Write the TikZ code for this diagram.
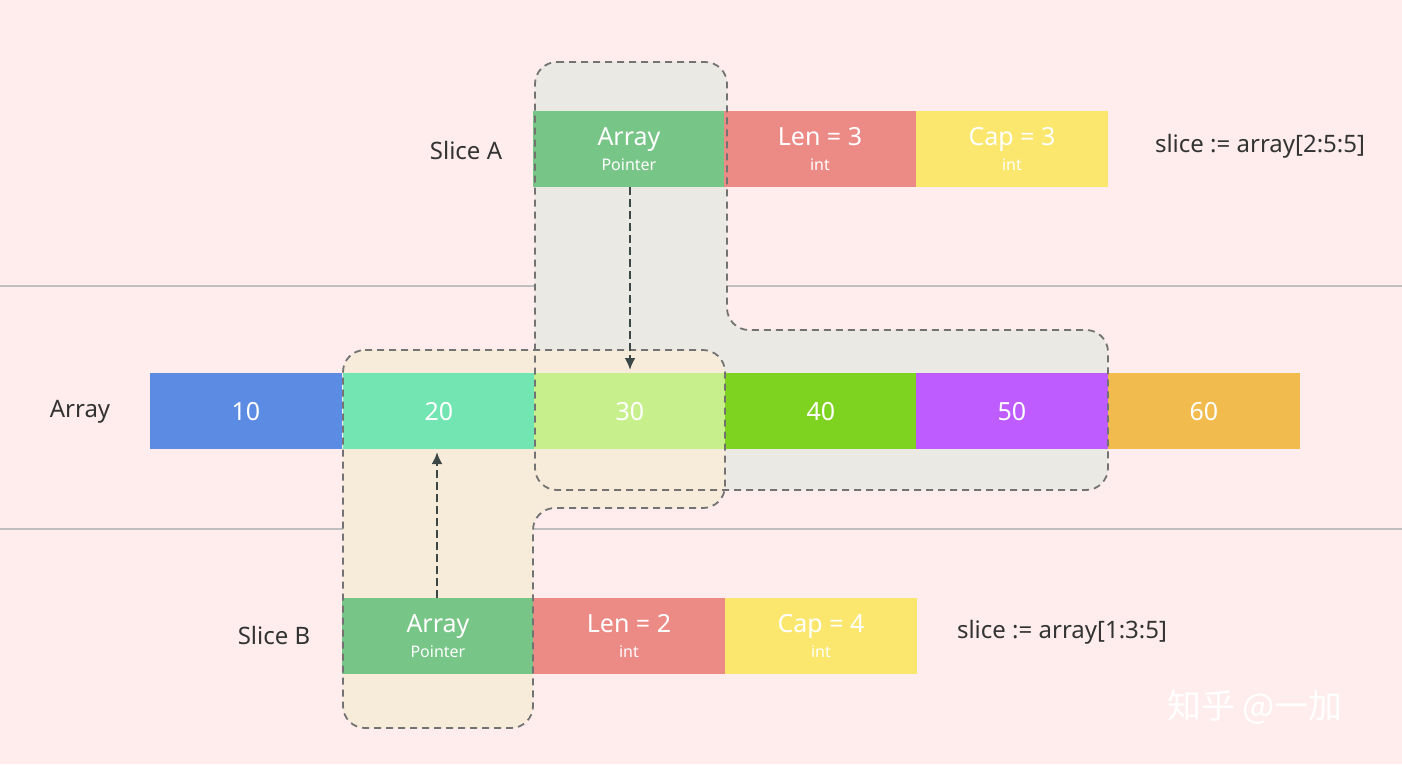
\documentclass[tikz,border=0pt]{standalone}
\usepackage{fontspec}
\setmainfont{Noto Sans}
\newfontfamily\cjk{Noto Sans CJK SC}
\usetikzlibrary{arrows.meta}
\begin{document}
\begin{tikzpicture}[x=1pt,y=-1pt,
  cell/.style={minimum width=191.5pt,minimum height=76pt,inner sep=0pt,text=white,anchor=north west,font=\fontsize{25}{27}\selectfont},
  two/.style={cell,align=center},
  lab/.style={font=\fontsize{24}{26}\selectfont,text=black!80},
  region/.style={draw=black!55,line width=1.8pt,dash pattern=on 7pt off 5pt,rounded corners=22pt},
  ptr/.style={draw={rgb,255:red,60;green,72;blue,72},line width=2.6pt,dash pattern=on 8pt off 4pt,-{Latex[length=12pt,width=11pt]}}]
\fill[fill=red!7!white] (0,0) rectangle (1402,764);
\useasboundingbox (0,0) rectangle (1402,764);
\draw[black!25,line width=1.5pt] (0,286) -- (1402,286);
\draw[black!25,line width=1.5pt] (0,529) -- (1402,529);
% regions fill
\fill[rounded corners=22pt,fill={rgb,255:red,234;green,233;blue,228}] (535,62) -- (727,62) -- (727,330) -- (1108,330) -- (1108,490) -- (535,490) -- cycle;
\fill[rounded corners=22pt,fill={rgb,255:red,247;green,236;blue,218}] (343,350) -- (725,350) -- (725,508) -- (533,508) -- (533,728) -- (343,728) -- cycle;
% array
\node[lab] (arrlab) at (80,412) {Array};
\node[cell,fill={rgb,255:red,91;green,139;blue,227}] (a10) at (150,373) {10};
\node[cell,fill={rgb,255:red,114;green,229;blue,178}] (a20) at (343,373) {20};
\node[cell,fill={rgb,255:red,192;green,238;blue,126}] (a30) at (534,373) {30};
\node[cell,fill={rgb,255:red,126;green,211;blue,33}] (a40) at (725,373) {40};
\node[cell,fill={rgb,255:red,190;green,92;blue,255}] (a50) at (916,373) {50};
\node[cell,fill={rgb,255:red,242;green,187;blue,78}] (a60) at (1108,373) {60};
\fill[white,opacity=0.12] (534,373) rectangle (725,449);
% slice A
\node[lab] (sa) at (466,150) {Slice A};
\node[two,fill={rgb,255:red,119;green,197;blue,135}] (pa) at (533,111) {Array\\[-2pt]{\fontsize{16}{18}\selectfont Pointer}};
\node[two,fill={rgb,255:red,236;green,138;blue,134}] (la) at (724,111) {Len = 3\\[-2pt]{\fontsize{16}{18}\selectfont int}};
\node[two,fill={rgb,255:red,251;green,231;blue,110}] (ca) at (916,111) {Cap = 3\\[-2pt]{\fontsize{16}{18}\selectfont int}};
\node[lab] (ea) at (1260,146) {slice := array[2:5:5]};
% slice B
\node[lab] (sb) at (274,635) {Slice B};
\node[two,fill={rgb,255:red,119;green,197;blue,135}] (pb) at (342,598) {Array\\[-2pt]{\fontsize{16}{18}\selectfont Pointer}};
\node[two,fill={rgb,255:red,236;green,138;blue,134}] (lb) at (533,598) {Len = 2\\[-2pt]{\fontsize{16}{18}\selectfont int}};
\node[two,fill={rgb,255:red,251;green,231;blue,110}] (cb) at (725,598) {Cap = 4\\[-2pt]{\fontsize{16}{18}\selectfont int}};
\node[lab] (eb) at (1062,632) {slice := array[1:3:5]};
% region borders
\draw[region] (535,62) -- (727,62) -- (727,330) -- (1108,330) -- (1108,490) -- (535,490) -- cycle;
\draw[region] (343,350) -- (725,350) -- (725,508) -- (533,508) -- (533,728) -- (343,728) -- cycle;
% pointers
\coordinate (ta) at (630,370);
\coordinate (tb) at (437,452);
\draw[ptr] (pa.south -| ta) -- (ta);
\draw[ptr] (pb.north -| tb) -- (tb);
\node[font=\cjk\fontsize{34}{36}\selectfont,text=white] (wm) at (1255,707) {知乎 @一加};
\end{tikzpicture}
\end{document}
